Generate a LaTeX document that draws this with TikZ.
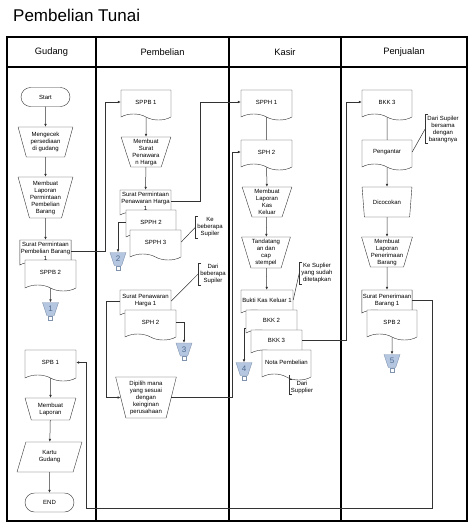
\documentclass[tikz,border=0pt]{standalone}
\usepackage{fontspec}
\setmainfont{Liberation Sans}
\usetikzlibrary{arrows.meta,positioning,shapes.geometric,shapes.misc,shapes.symbols}
\definecolor{confill}{HTML}{B4C6E0}
\definecolor{conline}{HTML}{7F93AE}
\definecolor{context}{HTML}{4F6A8F}

\begin{document}
\begin{tikzpicture}[
    x=1pt, y=-1pt,
    every node/.style={font=\fontsize{6}{7}\selectfont},
    term/.style={draw=black!80, rounded rectangle, minimum width=51pt, minimum height=19pt, inner sep=1pt},
    manual/.style={draw=black!80, trapezium, shape border rotate=180, trapezium angle=72, trapezium stretches=true, align=center, minimum width=50pt, minimum height=30pt, inner sep=0pt},
    doc/.style={draw=black!80, fill=white, tape, tape bend top=none, tape bend bottom=out and in, tape bend height=6pt, align=center, minimum width=51pt, minimum height=30pt, inner sep=1pt},
    card/.style={draw=black!80, trapezium, trapezium left angle=72, trapezium right angle=108, trapezium stretches=true, align=center, minimum width=65pt, minimum height=30pt, inner sep=0pt},
    offpage/.style={draw=conline, fill=confill, trapezium, shape border rotate=180, trapezium angle=65, trapezium stretches=true, minimum width=16pt, minimum height=13pt, inner sep=0pt, text=context, font=\fontsize{8}{8}\selectfont},
    conbox/.style={draw=conline, fill=white, line width=0.4pt},
    note/.style={align=center, inner xsep=2pt, inner ysep=1pt},
    lane/.style={font=\fontsize{9.3}{11}\selectfont},
    frame/.style={line width=1.4pt},
    arr/.style={-{Latex[length=3pt,width=2.6pt]}, draw=black!80, line width=0.5pt},
    link/.style={draw=black!80, line width=0.5pt}
]
\useasboundingbox (0,0) rectangle (474,530);

% title and lanes
\node[anchor=west, inner sep=0pt, font=\fontsize{17}{20}\selectfont] (title) at (13,15) {Pembelian Tunai};
\draw[frame] (7,37) rectangle (467,521);
\draw[frame] (7,67) -- (467,67);
\draw[frame] (96,37) -- (96,521) (229,37) -- (229,521) (341,37) -- (341,521);
\node[lane] (hgudang) at (51.5,52) {Gudang};
\node[lane] (hbeli) at (162.5,52) {Pembelian};
\node[lane] (hkasir) at (285,52) {Kasir};
\node[lane] (hjual) at (404,52) {Penjualan};

% Gudang
\node[term] (start) at (45.5,97) {Start};
\node[manual, minimum width=55pt] (cek) at (45.5,142) {Mengecek\\persediaan\\di gudang};
\node[manual, minimum width=55pt, minimum height=41pt] (lapor) at (45.5,197.5) {Membuat\\Laporan\\Permintaan\\Pembelian\\Barang};
\node[doc, minimum height=28pt] (sppb1) at (45.5,251) {Surat Permintaan\\Pembelian Barang\\1};
\node[doc, minimum height=31pt] (sppb2) at (50.5,272.5) {SPPB 2};
\node[offpage] (c1) at (50.5,309) {1};
\draw[conbox] ([xshift=-2pt]c1.south) rectangle ++(4,4);
\node[doc, minimum height=31pt] (spb1) at (50.5,362.5) {SPB 1};
\node[manual, minimum width=51pt, minimum height=22pt] (lapor2) at (50.5,409) {Membuat\\Laporan};
\node[card] (kartu) at (49.5,457) {Kartu\\Gudang};
\node[term] (end) at (49.5,502.5) {END};

% Pembelian
\node[doc, minimum width=50pt] (sppb1p) at (146,102) {SPPB 1};
\node[manual] (buatsph) at (146,152) {Membuat\\Surat\\Penawara\\n Harga};
\node[doc, minimum height=28pt] (spph1) at (145.5,201) {Surat Permintaan\\Penawaran Harga\\1};
\node[doc, minimum width=50pt] (spph2) at (151,222) {SPPH 2};
\node[doc] (spph3) at (155.5,242) {SPPH 3};
\node[offpage] (c2) at (118,259) {2};
\draw[conbox] ([xshift=-2pt]c2.south) rectangle ++(4,4);
\node[note] (n1) at (210,227.5) {Ke\\beberapa\\Supiler};
\node[note] (n2) at (213,274) {Dari\\beberapa\\Supiler};
\node[doc, minimum height=28pt] (sph1) at (145.5,301) {Surat Penawaran\\Harga 1};
\node[doc] (sph2) at (150.5,322) {SPH 2};
\node[offpage] (c3) at (184,349.5) {3};
\draw[conbox] ([xshift=-2pt]c3.south) rectangle ++(4,4);
\node[manual, trapezium angle=76, minimum width=61pt, minimum height=41pt] (pilih) at (146,397.5) {Dipilih mana\\yang sesuai\\dengan\\keinginan\\perusahaan};

% Kasir
\node[doc] (spph1k) at (266.5,102) {SPPH 1};
\node[doc] (sph2k) at (266.5,152) {SPH 2};
\node[manual] (lapkas) at (267,202) {Membuat\\Laporan\\Kas\\Keluar};
\node[manual, minimum width=49pt, minimum height=31pt] (ttd) at (266,252.5) {Tandatang\\an dan\\cap\\stempel};
\node[doc, minimum width=52pt, minimum height=26pt] (bkk1) at (267,300) {Bukti Kas Keluar 1};
\node[doc, minimum height=26pt] (bkk2) at (271.5,320) {BKK 2};
\node[doc, minimum height=26pt] (bkk3) at (276.5,340) {BKK 3};
\node[doc, minimum width=49pt] (nota) at (286.5,362) {Nota Pembelian};
\node[offpage] (c4) at (244,369) {4};
\draw[conbox] ([xshift=-2pt]c4.south) rectangle ++(4,4);
\node[note] (n3) at (317,273) {Ke Suplier\\yang sudah\\ditetapkan};
\node[note] (n4) at (302,387) {Dari\\Supplier};

% Penjualan
\node[doc, minimum width=50pt] (bkk3p) at (387,102) {BKK 3};
\node[doc, minimum width=50pt] (antar) at (387,152) {Pengantar};
\node[note] (n5) at (443,129) {Dari Supiler\\bersama\\dengan\\barangnya};
\node[manual] (cocok) at (387,202) {Dicocokan};
\node[manual, minimum width=51pt] (lappen) at (387,252) {Membuat\\Laporan\\Penerimaan\\Barang};
\node[doc, minimum width=50pt, minimum height=26pt] (spb1p) at (387,300) {Surat Penerimaan\\Barang 1};
\node[doc, minimum width=50pt] (spb2p) at (392,322) {SPB 2};
\node[offpage] (c5) at (392,361) {5};
\draw[conbox] ([xshift=-2pt]c5.south) rectangle ++(4,4);
\coordinate (back) at (86,508);

% flow
\draw[arr] (start) -- (cek);
\draw[arr] (cek) -- (lapor);
\draw[arr] (lapor) -- (sppb1);
\draw[arr] (sppb2) -- (c1);
\draw[arr] (spb1) -- (lapor2);
\draw[arr] (lapor2) -- (kartu);
\draw[arr] (kartu) -- (end);
\draw[arr] (sppb1.east) -- ++(34,0) |- (sppb1p.west);
\draw[arr] (sppb1p) -- (buatsph);
\draw[arr] (buatsph) -- (spph1);
\draw[arr] (spph2.west) -| (c2);
\draw[arr] (spph1.east) -- ++(29,0) |- (spph1k.west);
\draw[arr] (sph2.east) -| (c3);
\draw[arr] (sph1.west) -- ++(-14,0) |- (pilih.west);
\draw[arr] (pilih.east) -- ++(61,0) |- (sph2k.west);
\draw[link] (spph1k) -- (sph2k);
\draw[arr] (sph2k) -- (lapkas);
\draw[arr] (lapkas) -- (ttd);
\draw[arr] (ttd) -- (bkk1);
\draw[arr] ([yshift=-8pt]bkk2.west) -| (c4);
\draw[arr] (bkk3.east) -- ++(44,0) |- (bkk3p.west);
\draw[link] (bkk3p) -- (antar);
\draw[arr] (antar) -- (cocok);
\draw[arr] (cocok) -- (lappen);
\draw[arr] (lappen) -- (spb1p);
\draw[arr] (spb2p) -- (c5);
\draw[arr] (spb1p.east) -- ++(20,0) |- (back) |- (spb1.east);

% notes
\draw[link] ([xshift=3pt]n1.north west) -- (n1.north west) -- (n1.south west) -- ++(3,0);
\draw[link] (n1.west) -- (spph3.east);
\draw[link] ([xshift=3pt]n2.north west) -- (n2.north west) -- (n2.south west) -- ++(3,0);
\draw[link] (n2.west) -- (sph1.east);
\draw[link] ([xshift=3pt]n3.north west) -- (n3.north west) -- (n3.south west) -- ++(3,0);
\draw[link] (n3.west) -- (bkk1.east);
\draw[link] ([xshift=3pt]n4.north west) -- (n4.north west) -- (n4.south west) -- ++(3,0);
\draw[link] (n4.north west) -- ++(0,-5);
\draw[link] ([xshift=3pt]n5.north west) -- (n5.north west) -- (n5.south west) -- ++(3,0);
\draw[link] (n5.west) -- (antar.east);
\end{tikzpicture}
\end{document}
